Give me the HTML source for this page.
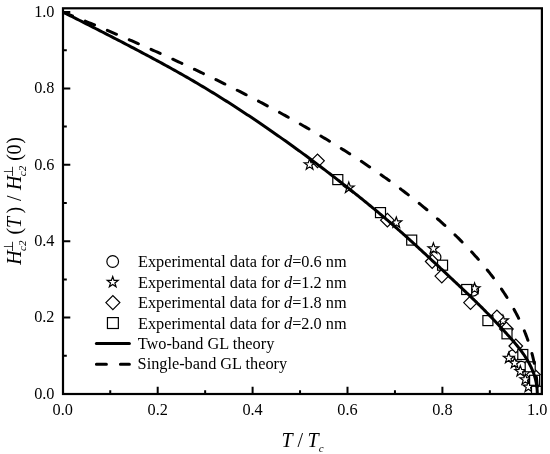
<!DOCTYPE html>
<html><head><meta charset="utf-8"><title>Hc2 plot</title>
<style>
html,body{margin:0;padding:0;background:#fff;}
svg{display:block;font-family:"Liberation Serif",serif;fill:#000;}
.mk{fill:#fff;stroke:#000;stroke-width:1.2;stroke-linejoin:miter;}
.ln{fill:none;stroke:#000;stroke-width:3;stroke-linejoin:round;}
.tk{font-size:16.3px;}
.lg{font-size:16.3px;}
.ax{font-size:20px;font-style:italic;}
.ss{font-size:11px;font-style:italic;}
.sp{font-size:12.5px;}
</style></head><body>
<svg width="550" height="454" viewBox="0 0 550 454">
<rect width="550" height="454" fill="#fff"/>
<clipPath id="cp"><rect x="63" y="8.6" width="479" height="385.9"/></clipPath>
<g class="mk" clip-path="url(#cp)">
<circle cx="435.3" cy="257.3" r="5.6"/>
<circle cx="473" cy="290.5" r="5.6"/>
<circle cx="513.5" cy="355.5" r="5.6"/>
<circle cx="521.3" cy="367" r="5.6"/>
<polygon points="309.60,158.90 310.94,162.76 315.02,162.84 311.77,165.30 312.95,169.21 309.60,166.88 306.25,169.21 307.43,165.30 304.18,162.84 308.26,162.76"/>
<polygon points="348.80,182.10 350.14,185.96 354.22,186.04 350.97,188.50 352.15,192.41 348.80,190.08 345.45,192.41 346.63,188.50 343.38,186.04 347.46,185.96"/>
<polygon points="396.30,217.00 397.64,220.86 401.72,220.94 398.47,223.40 399.65,227.31 396.30,224.98 392.95,227.31 394.13,223.40 390.88,220.94 394.96,220.86"/>
<polygon points="433.40,242.90 434.74,246.76 438.82,246.84 435.57,249.30 436.75,253.21 433.40,250.88 430.05,253.21 431.23,249.30 427.98,246.84 432.06,246.76"/>
<polygon points="474.60,282.90 475.94,286.76 480.02,286.84 476.77,289.30 477.95,293.21 474.60,290.88 471.25,293.21 472.43,289.30 469.18,286.84 473.26,286.76"/>
<polygon points="502.90,315.00 504.24,318.86 508.32,318.94 505.07,321.40 506.25,325.31 502.90,322.98 499.55,325.31 500.73,321.40 497.48,318.94 501.56,318.86"/>
<polygon points="508.80,352.40 510.14,356.26 514.22,356.34 510.97,358.80 512.15,362.71 508.80,360.38 505.45,362.71 506.63,358.80 503.38,356.34 507.46,356.26"/>
<polygon points="514.60,357.40 515.94,361.26 520.02,361.34 516.77,363.80 517.95,367.71 514.60,365.38 511.25,367.71 512.43,363.80 509.18,361.34 513.26,361.26"/>
<polygon points="520.30,365.60 521.64,369.46 525.72,369.54 522.47,372.00 523.65,375.91 520.30,373.58 516.95,375.91 518.13,372.00 514.88,369.54 518.96,369.46"/>
<polygon points="525.30,373.90 526.64,377.76 530.72,377.84 527.47,380.30 528.65,384.21 525.30,381.88 521.95,384.21 523.13,380.30 519.88,377.84 523.96,377.76"/>
<polygon points="528.40,381.20 529.74,385.06 533.82,385.14 530.57,387.60 531.75,391.51 528.40,389.18 525.05,391.51 526.23,387.60 522.98,385.14 527.06,385.06"/>
<polygon points="310.7,160.85 317.5,154.04999999999998 324.3,160.85 317.5,167.65"/>
<polygon points="380.59999999999997,220.2 387.4,213.39999999999998 394.2,220.2 387.4,227.0"/>
<polygon points="425.4,261.5 432.2,254.7 439.0,261.5 432.2,268.3"/>
<polygon points="435.0,276.1 441.8,269.3 448.6,276.1 441.8,282.90000000000003"/>
<polygon points="463.7,302.6 470.5,295.8 477.3,302.6 470.5,309.40000000000003"/>
<polygon points="490.09999999999997,316.8 496.9,310.0 503.7,316.8 496.9,323.6"/>
<polygon points="499.59999999999997,329 506.4,322.2 513.1999999999999,329 506.4,335.8"/>
<polygon points="508.99999999999994,346 515.8,339.2 522.5999999999999,346 515.8,352.8"/>
<polygon points="526.6,374.6 533.4,367.8 540.1999999999999,374.6 533.4,381.40000000000003"/>
<rect x="332.8" y="174.6" width="10" height="10"/>
<rect x="375.5" y="207.6" width="10" height="10"/>
<rect x="406.7" y="235.1" width="10" height="10"/>
<rect x="437.55" y="260.2" width="10" height="10"/>
<rect x="461.7" y="284.5" width="10" height="10"/>
<rect x="482.9" y="315.6" width="10" height="10"/>
<rect x="502.0" y="328.8" width="10" height="10"/>
<rect x="517.8" y="349.5" width="10" height="10"/>
<rect x="525.2" y="361.8" width="10" height="10"/>
<rect x="529.6" y="375.3" width="10" height="10"/>
<rect x="531.5" y="386.3" width="10" height="10"/>
</g>
<path class="ln" clip-path="url(#cp)" d="M62.80 12.00 L65.18 13.19 L67.54 14.37 L69.91 15.56 L72.27 16.74 L74.62 17.92 L76.96 19.10 L79.30 20.28 L81.64 21.46 L83.96 22.63 L86.29 23.81 L88.60 24.98 L90.91 26.15 L93.22 27.32 L95.51 28.49 L97.81 29.66 L100.09 30.83 L102.37 31.99 L104.65 33.15 L106.91 34.32 L109.18 35.48 L111.43 36.64 L113.68 37.80 L115.93 38.96 L118.17 40.12 L120.40 41.28 L122.62 42.43 L124.85 43.59 L127.06 44.74 L129.27 45.90 L131.47 47.05 L133.67 48.20 L135.86 49.35 L138.04 50.51 L140.22 51.66 L142.39 52.81 L144.56 53.96 L146.72 55.11 L148.88 56.26 L151.03 57.41 L153.17 58.56 L155.31 59.71 L157.44 60.86 L159.56 62.01 L161.68 63.17 L163.79 64.32 L165.90 65.48 L168.00 66.64 L170.10 67.80 L172.19 68.96 L174.27 70.12 L176.35 71.28 L178.42 72.45 L180.49 73.62 L182.54 74.79 L184.60 75.96 L186.65 77.13 L188.69 78.31 L190.72 79.49 L192.75 80.67 L194.78 81.85 L196.79 83.04 L198.81 84.22 L200.81 85.42 L202.81 86.61 L204.81 87.80 L206.79 89.00 L208.78 90.20 L210.75 91.41 L212.72 92.61 L214.69 93.82 L216.64 95.03 L218.60 96.25 L220.54 97.46 L222.48 98.68 L224.42 99.90 L226.35 101.12 L228.27 102.34 L230.19 103.56 L232.10 104.79 L234.00 106.01 L235.90 107.24 L237.79 108.47 L239.68 109.70 L241.56 110.93 L243.43 112.16 L245.30 113.39 L247.17 114.63 L249.02 115.86 L250.87 117.10 L252.72 118.33 L254.56 119.57 L256.39 120.81 L258.22 122.04 L260.04 123.28 L261.85 124.52 L263.66 125.75 L265.47 126.99 L267.26 128.23 L269.05 129.46 L270.84 130.70 L272.62 131.94 L274.39 133.17 L276.16 134.41 L277.92 135.65 L279.68 136.88 L281.43 138.12 L283.17 139.35 L284.91 140.58 L286.64 141.82 L288.36 143.05 L290.08 144.28 L291.80 145.51 L293.51 146.74 L295.21 147.97 L296.90 149.20 L298.59 150.43 L300.28 151.66 L301.96 152.88 L303.63 154.11 L305.29 155.33 L306.95 156.55 L308.61 157.78 L310.26 159.00 L311.90 160.22 L313.54 161.44 L315.17 162.65 L316.79 163.87 L318.41 165.09 L320.02 166.30 L321.63 167.51 L323.23 168.72 L324.82 169.93 L326.41 171.14 L327.99 172.35 L329.57 173.56 L331.14 174.76 L332.71 175.96 L334.26 177.16 L335.82 178.36 L337.36 179.56 L338.91 180.76 L340.44 181.95 L341.97 183.14 L343.49 184.33 L345.01 185.52 L346.52 186.71 L348.03 187.90 L349.52 189.08 L351.02 190.26 L352.51 191.44 L353.99 192.62 L355.46 193.80 L356.93 194.97 L358.39 196.15 L359.85 197.32 L361.30 198.49 L362.75 199.66 L364.19 200.82 L365.62 201.99 L367.05 203.16 L368.47 204.32 L369.89 205.48 L371.30 206.64 L372.70 207.80 L374.10 208.96 L375.49 210.11 L376.88 211.27 L378.26 212.42 L379.63 213.58 L381.00 214.73 L382.36 215.88 L383.72 217.02 L385.07 218.17 L386.41 219.32 L387.75 220.46 L389.08 221.61 L390.41 222.75 L391.73 223.89 L393.04 225.03 L394.35 226.16 L395.65 227.30 L396.95 228.43 L398.24 229.57 L399.53 230.70 L400.80 231.83 L402.08 232.96 L403.34 234.08 L404.60 235.21 L405.86 236.33 L407.11 237.45 L408.35 238.57 L409.59 239.69 L410.82 240.80 L412.04 241.92 L413.26 243.03 L414.48 244.13 L415.68 245.23 L416.88 246.33 L418.08 247.43 L419.27 248.52 L420.45 249.61 L421.63 250.70 L422.80 251.78 L423.97 252.86 L425.13 253.93 L426.28 255.00 L427.43 256.06 L428.57 257.12 L429.70 258.18 L430.83 259.23 L431.96 260.28 L433.07 261.32 L434.19 262.35 L435.29 263.38 L436.39 264.41 L437.49 265.43 L438.57 266.45 L439.66 267.46 L440.73 268.47 L441.80 269.47 L442.87 270.46 L443.92 271.45 L444.98 272.44 L446.02 273.42 L447.06 274.39 L448.10 275.36 L449.12 276.32 L450.15 277.28 L451.16 278.23 L452.17 279.18 L453.18 280.12 L454.18 281.06 L455.17 281.99 L456.16 282.92 L457.14 283.84 L458.11 284.75 L459.08 285.67 L460.04 286.57 L461.00 287.47 L461.95 288.37 L462.89 289.27 L463.83 290.16 L464.77 291.04 L465.69 291.92 L466.61 292.80 L467.53 293.67 L468.44 294.54 L469.34 295.40 L470.24 296.26 L471.13 297.12 L472.01 297.97 L472.89 298.82 L473.77 299.67 L474.63 300.51 L475.50 301.35 L476.35 302.18 L477.20 303.01 L478.04 303.84 L478.88 304.66 L479.71 305.48 L480.54 306.30 L481.36 307.12 L482.17 307.93 L482.98 308.73 L483.78 309.54 L484.58 310.34 L485.37 311.14 L486.15 311.93 L486.93 312.72 L487.70 313.51 L488.47 314.30 L489.23 315.08 L489.98 315.86 L490.73 316.63 L491.47 317.41 L492.21 318.18 L492.94 318.94 L493.66 319.70 L494.38 320.46 L495.09 321.21 L495.80 321.96 L496.50 322.71 L497.19 323.45 L497.88 324.18 L498.57 324.91 L499.24 325.64 L499.91 326.36 L500.58 327.08 L501.24 327.79 L501.89 328.49 L502.54 329.20 L503.18 329.89 L503.81 330.59 L504.44 331.27 L505.06 331.96 L505.68 332.63 L506.29 333.31 L506.90 333.98 L507.49 334.64 L508.09 335.30 L508.68 335.96 L509.26 336.61 L509.83 337.25 L510.40 337.90 L510.96 338.54 L511.52 339.17 L512.07 339.80 L512.62 340.43 L513.16 341.05 L513.69 341.67 L514.22 342.29 L514.74 342.90 L515.26 343.51 L515.77 344.12 L516.27 344.73 L516.77 345.33 L517.26 345.93 L517.74 346.53 L518.22 347.12 L518.70 347.72 L519.17 348.31 L519.63 348.90 L520.08 349.50 L520.53 350.08 L520.98 350.67 L521.42 351.26 L521.85 351.85 L522.28 352.43 L522.70 353.02 L523.11 353.60 L523.52 354.18 L523.92 354.77 L524.32 355.35 L524.71 355.93 L525.09 356.51 L525.47 357.09 L525.84 357.68 L526.21 358.26 L526.57 358.84 L526.92 359.42 L527.27 360.00 L527.62 360.58 L527.95 361.16 L528.28 361.74 L528.61 362.32 L528.93 362.90 L529.24 363.49 L529.55 364.07 L529.85 364.65 L530.14 365.23 L530.43 365.81 L530.72 366.39 L530.99 366.98 L531.26 367.56 L531.53 368.14 L531.79 368.73 L532.04 369.31 L532.29 369.89 L532.53 370.48 L532.77 371.06 L533.00 371.65 L533.22 372.23 L533.44 372.82 L533.65 373.40 L533.85 373.99 L534.05 374.57 L534.25 375.16 L534.44 375.74 L534.62 376.33 L534.79 376.92 L534.96 377.50 L535.13 378.09 L535.29 378.68 L535.44 379.27 L535.58 379.85 L535.72 380.44 L535.86 381.03 L535.99 381.62 L536.11 382.21 L536.22 382.80 L536.33 383.38 L536.44 383.97 L536.54 384.56 L536.63 385.15 L536.72 385.74 L536.80 386.33 L536.87 386.92 L536.94 387.51 L537.00 388.10 L537.06 388.69 L537.11 389.28 L537.15 389.87 L537.19 390.46 L537.23 391.05 L537.25 391.64 L537.27 392.23 L537.29 392.82 L537.30 393.41 L537.30 394.00"/>
<path class="ln" clip-path="url(#cp)" stroke-dasharray="10 13.85" stroke-dashoffset="-0.45" stroke-linecap="round" d="M62.80 12.00 L65.18 12.96 L67.54 13.91 L69.91 14.87 L72.27 15.83 L74.62 16.79 L76.96 17.74 L79.30 18.70 L81.64 19.66 L83.96 20.62 L86.29 21.57 L88.60 22.53 L90.91 23.49 L93.22 24.45 L95.51 25.40 L97.81 26.36 L100.09 27.32 L102.37 28.28 L104.65 29.23 L106.91 30.19 L109.18 31.15 L111.43 32.11 L113.68 33.06 L115.93 34.02 L118.17 34.98 L120.40 35.93 L122.62 36.89 L124.85 37.85 L127.06 38.81 L129.27 39.76 L131.47 40.72 L133.67 41.68 L135.86 42.64 L138.04 43.59 L140.22 44.55 L142.39 45.51 L144.56 46.47 L146.72 47.42 L148.88 48.38 L151.03 49.34 L153.17 50.30 L155.31 51.25 L157.44 52.21 L159.56 53.17 L161.68 54.13 L163.79 55.08 L165.90 56.04 L168.00 57.00 L170.10 57.95 L172.19 58.91 L174.27 59.87 L176.35 60.83 L178.42 61.78 L180.49 62.74 L182.54 63.70 L184.60 64.66 L186.65 65.61 L188.69 66.57 L190.72 67.53 L192.75 68.49 L194.78 69.44 L196.79 70.40 L198.81 71.36 L200.81 72.32 L202.81 73.27 L204.81 74.23 L206.79 75.19 L208.78 76.15 L210.75 77.10 L212.72 78.06 L214.69 79.02 L216.64 79.97 L218.60 80.93 L220.54 81.89 L222.48 82.85 L224.42 83.80 L226.35 84.76 L228.27 85.72 L230.19 86.68 L232.10 87.63 L234.00 88.59 L235.90 89.55 L237.79 90.51 L239.68 91.46 L241.56 92.42 L243.43 93.38 L245.30 94.34 L247.17 95.29 L249.02 96.25 L250.87 97.21 L252.72 98.17 L254.56 99.12 L256.39 100.08 L258.22 101.04 L260.04 101.99 L261.85 102.95 L263.66 103.91 L265.47 104.87 L267.26 105.82 L269.05 106.78 L270.84 107.74 L272.62 108.70 L274.39 109.65 L276.16 110.61 L277.92 111.57 L279.68 112.53 L281.43 113.48 L283.17 114.44 L284.91 115.40 L286.64 116.36 L288.36 117.31 L290.08 118.27 L291.80 119.23 L293.51 120.19 L295.21 121.14 L296.90 122.10 L298.59 123.06 L300.28 124.02 L301.96 124.97 L303.63 125.93 L305.29 126.89 L306.95 127.84 L308.61 128.80 L310.26 129.76 L311.90 130.72 L313.54 131.67 L315.17 132.63 L316.79 133.59 L318.41 134.55 L320.02 135.50 L321.63 136.46 L323.23 137.42 L324.82 138.38 L326.41 139.33 L327.99 140.29 L329.57 141.25 L331.14 142.21 L332.71 143.16 L334.26 144.12 L335.82 145.08 L337.36 146.04 L338.91 146.99 L340.44 147.95 L341.97 148.91 L343.49 149.86 L345.01 150.82 L346.52 151.78 L348.03 152.74 L349.52 153.69 L351.02 154.65 L352.51 155.61 L353.99 156.57 L355.46 157.52 L356.93 158.48 L358.39 159.44 L359.85 160.40 L361.30 161.35 L362.75 162.31 L364.19 163.27 L365.62 164.23 L367.05 165.18 L368.47 166.14 L369.89 167.10 L371.30 168.06 L372.70 169.01 L374.10 169.97 L375.49 170.93 L376.88 171.88 L378.26 172.84 L379.63 173.80 L381.00 174.76 L382.36 175.71 L383.72 176.67 L385.07 177.63 L386.41 178.59 L387.75 179.54 L389.08 180.50 L390.41 181.46 L391.73 182.42 L393.04 183.37 L394.35 184.33 L395.65 185.29 L396.95 186.25 L398.24 187.20 L399.53 188.16 L400.80 189.12 L402.08 190.08 L403.34 191.03 L404.60 191.99 L405.86 192.95 L407.11 193.90 L408.35 194.86 L409.59 195.82 L410.82 196.78 L412.04 197.73 L413.26 198.69 L414.48 199.65 L415.68 200.61 L416.88 201.56 L418.08 202.52 L419.27 203.48 L420.45 204.44 L421.63 205.39 L422.80 206.35 L423.97 207.31 L425.13 208.27 L426.28 209.22 L427.43 210.18 L428.57 211.14 L429.70 212.10 L430.83 213.05 L431.96 214.01 L433.07 214.97 L434.19 215.92 L435.29 216.88 L436.39 217.84 L437.49 218.80 L438.57 219.75 L439.66 220.71 L440.73 221.67 L441.80 222.63 L442.87 223.58 L443.92 224.54 L444.98 225.50 L446.02 226.46 L447.06 227.41 L448.10 228.37 L449.12 229.33 L450.15 230.29 L451.16 231.24 L452.17 232.20 L453.18 233.16 L454.18 234.12 L455.17 235.07 L456.16 236.03 L457.14 236.99 L458.11 237.94 L459.08 238.90 L460.04 239.86 L461.00 240.82 L461.95 241.77 L462.89 242.73 L463.83 243.69 L464.77 244.65 L465.69 245.60 L466.61 246.56 L467.53 247.52 L468.44 248.48 L469.34 249.43 L470.24 250.39 L471.13 251.35 L472.01 252.31 L472.89 253.26 L473.77 254.22 L474.63 255.18 L475.50 256.14 L476.35 257.09 L477.20 258.05 L478.04 259.01 L478.88 259.96 L479.71 260.92 L480.54 261.88 L481.36 262.84 L482.17 263.79 L482.98 264.75 L483.78 265.71 L484.58 266.67 L485.37 267.62 L486.15 268.58 L486.93 269.54 L487.70 270.50 L488.47 271.45 L489.23 272.41 L489.98 273.37 L490.73 274.33 L491.47 275.28 L492.21 276.24 L492.94 277.20 L493.66 278.16 L494.38 279.11 L495.09 280.07 L495.80 281.03 L496.50 281.98 L497.19 282.94 L497.88 283.90 L498.57 284.86 L499.24 285.81 L499.91 286.77 L500.58 287.73 L501.24 288.69 L501.89 289.64 L502.54 290.60 L503.18 291.56 L503.81 292.52 L504.44 293.47 L505.06 294.43 L505.68 295.39 L506.29 296.35 L506.90 297.30 L507.49 298.26 L508.09 299.22 L508.68 300.18 L509.26 301.13 L509.83 302.09 L510.40 303.05 L510.96 304.01 L511.52 304.96 L512.07 305.92 L512.62 306.88 L513.16 307.83 L513.69 308.79 L514.22 309.75 L514.74 310.71 L515.26 311.66 L515.77 312.62 L516.27 313.58 L516.77 314.54 L517.26 315.49 L517.74 316.45 L518.22 317.41 L518.70 318.37 L519.17 319.32 L519.63 320.28 L520.08 321.24 L520.53 322.20 L520.98 323.15 L521.42 324.11 L521.85 325.07 L522.28 326.03 L522.70 326.98 L523.11 327.94 L523.52 328.90 L523.92 329.85 L524.32 330.81 L524.71 331.77 L525.09 332.73 L525.47 333.68 L525.84 334.64 L526.21 335.60 L526.57 336.56 L526.92 337.51 L527.27 338.47 L527.62 339.43 L527.95 340.39 L528.28 341.34 L528.61 342.30 L528.93 343.26 L529.24 344.22 L529.55 345.17 L529.85 346.13 L530.14 347.09 L530.43 348.05 L530.72 349.00 L530.99 349.96 L531.26 350.92 L531.53 351.87 L531.79 352.83 L532.04 353.79 L532.29 354.75 L532.53 355.70 L532.77 356.66 L533.00 357.62 L533.22 358.58 L533.44 359.53 L533.65 360.49 L533.85 361.45 L534.05 362.41 L534.25 363.36 L534.44 364.32 L534.62 365.28 L534.79 366.24 L534.96 367.19 L535.13 368.15 L535.29 369.11 L535.44 370.07 L535.58 371.02 L535.72 371.98 L535.86 372.94 L535.99 373.89 L536.11 374.85 L536.22 375.81 L536.33 376.77 L536.44 377.72 L536.54 378.68 L536.63 379.64 L536.72 380.60 L536.80 381.55 L536.87 382.51 L536.94 383.47 L537.00 384.43 L537.06 385.38 L537.11 386.34 L537.15 387.30 L537.19 388.26 L537.23 389.21 L537.25 390.17 L537.27 391.13 L537.29 392.09 L537.30 393.04 L537.30 394.00"/>
<rect x="63" y="8.3" width="478.9" height="385.7" fill="none" stroke="#000" stroke-width="2.2"/>
<path d="M110.25 393V390.2M64 355.80H66.8M157.70 393V386.7M64 317.60H70.3M205.15 393V390.2M64 279.40H66.8M252.60 393V386.7M64 241.20H70.3M300.05 393V390.2M64 203.00H66.8M347.50 393V386.7M64 164.80H70.3M394.95 393V390.2M64 126.60H66.8M442.40 393V386.7M64 88.40H70.3M489.85 393V390.2M64 50.20H66.8M64 12.00H70.3" stroke="#000" stroke-width="2" fill="none"/>
<g class="tk">
<text x="62.8" y="414.8" text-anchor="middle">0.0</text>
<text x="54.5" y="398.7" text-anchor="end">0.0</text>
<text x="157.7" y="414.8" text-anchor="middle">0.2</text>
<text x="54.5" y="322.3" text-anchor="end">0.2</text>
<text x="252.6" y="414.8" text-anchor="middle">0.4</text>
<text x="54.5" y="245.9" text-anchor="end">0.4</text>
<text x="347.5" y="414.8" text-anchor="middle">0.6</text>
<text x="54.5" y="169.5" text-anchor="end">0.6</text>
<text x="442.4" y="414.8" text-anchor="middle">0.8</text>
<text x="54.5" y="93.1" text-anchor="end">0.8</text>
<text x="537.3" y="414.8" text-anchor="middle">1.0</text>
<text x="54.5" y="16.7" text-anchor="end">1.0</text>
</g>
<g class="mk"><circle cx="112.7" cy="261.45" r="5.85"/><polygon points="112.70,276.50 114.04,280.36 118.12,280.44 114.87,282.90 116.05,286.81 112.70,284.48 109.35,286.81 110.53,282.90 107.28,280.44 111.36,280.36"/><polygon points="105.86,302.55 112.86,295.55 119.86,302.55 112.86,309.55"/><rect x="107.45" y="317.6" width="10.9" height="10.9"/></g>
<path class="ln" stroke-linecap="round" d="M96.4 343.5H129.4"/>
<path class="ln" stroke-linecap="round" stroke-dasharray="10 14" d="M96.4 364.2H129.4"/>
<g class="lg">
<text x="138" y="267.4">Experimental data for <tspan font-style="italic">d</tspan>=0.6 nm</text>
<text x="138" y="287.7">Experimental data for <tspan font-style="italic">d</tspan>=1.2 nm</text>
<text x="138" y="308.1">Experimental data for <tspan font-style="italic">d</tspan>=1.8 nm</text>
<text x="138" y="328.5">Experimental data for <tspan font-style="italic">d</tspan>=2.0 nm</text>
<text x="137.7" y="349.1">Two-band GL theory</text>
<text x="137.6" y="369.4">Single-band GL theory</text>
</g>
<text class="ax" x="281.6" y="446.7">T</text>
<text class="ax" x="297.4" y="446.7" style="font-style:normal">/</text>
<text class="ax" x="307.6" y="446.7">T</text>
<text class="ss" x="318.8" y="452.2">c</text>
<g transform="translate(21.2,267.6) rotate(-90)">
<text class="ax" x="2.75" y="0">H</text>
<text class="ss" x="16.65" y="5.1">c2</text>
<text class="sp" x="15.65" y="-8.6" style="font-style:normal">⊥</text>
<text class="ax" x="33" y="0" style="font-style:normal">(</text>
<text class="ax" x="39.5" y="0">T</text>
<text class="ax" x="54.2" y="0" style="font-style:normal">)</text>
<text class="ax" x="66.5" y="0" style="font-style:normal">/</text>
<text class="ax" x="77.5" y="0">H</text>
<text class="ss" x="91.4" y="5.1">c2</text>
<text class="sp" x="90.45" y="-8.6" style="font-style:normal">⊥</text>
<text class="ax" x="106.9" y="0" style="font-style:normal">(</text>
<text class="ax" x="113.1" y="0" style="font-style:normal">0</text>
<text class="ax" x="123.8" y="0" style="font-style:normal">)</text>
</g>
</svg></body></html>
